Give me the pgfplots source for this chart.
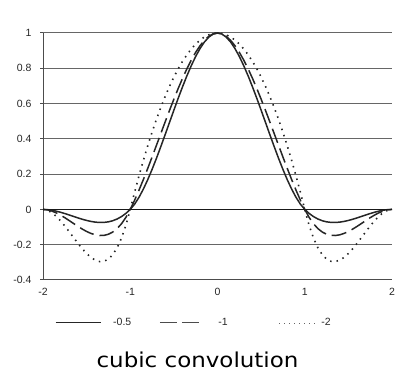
\documentclass[border=0pt]{standalone}
\usepackage{pgfplots}
\pgfplotsset{compat=1.18}
\usepackage{pgfplotstable}
\usepackage{fontspec}
\setmainfont{Liberation Sans}
\newfontfamily\capfont{DejaVu Sans}
\pgfplotstableread{
x a05 a1 a2
-2.00 0 0 0
-1.95 -0.00119 -0.00238 -0.00475
-1.90 -0.0045 -0.009 -0.018
-1.85 -0.00956 -0.01913 -0.03825
-1.80 -0.016 -0.032 -0.064
-1.75 -0.02344 -0.04688 -0.09375
-1.70 -0.0315 -0.063 -0.126
-1.65 -0.03981 -0.07963 -0.15925
-1.60 -0.048 -0.096 -0.192
-1.55 -0.05569 -0.11138 -0.22275
-1.50 -0.0625 -0.125 -0.25
-1.45 -0.06806 -0.13613 -0.27225
-1.40 -0.072 -0.144 -0.288
-1.35 -0.07394 -0.14788 -0.29575
-1.30 -0.0735 -0.147 -0.294
-1.25 -0.07031 -0.14063 -0.28125
-1.20 -0.064 -0.128 -0.256
-1.15 -0.05419 -0.10838 -0.21675
-1.10 -0.0405 -0.081 -0.162
-1.05 -0.02256 -0.04513 -0.09025
-1.00 0 0 0
-0.95 0.02981 0.05238 0.0975
-0.90 0.0685 0.109 0.19
-0.85 0.11494 0.16913 0.2775
-0.80 0.168 0.232 0.36
-0.75 0.22656 0.29688 0.4375
-0.70 0.2895 0.363 0.51
-0.65 0.35569 0.42963 0.5775
-0.60 0.424 0.496 0.64
-0.55 0.49331 0.56138 0.6975
-0.50 0.5625 0.625 0.75
-0.45 0.63044 0.68613 0.7975
-0.40 0.696 0.744 0.84
-0.35 0.75806 0.79788 0.8775
-0.30 0.8155 0.847 0.91
-0.25 0.86719 0.89063 0.9375
-0.20 0.912 0.928 0.96
-0.15 0.94881 0.95838 0.9775
-0.10 0.9765 0.981 0.99
-0.05 0.99394 0.99513 0.9975
0.00 1 1 1
0.05 0.99394 0.99513 0.9975
0.10 0.9765 0.981 0.99
0.15 0.94881 0.95838 0.9775
0.20 0.912 0.928 0.96
0.25 0.86719 0.89063 0.9375
0.30 0.8155 0.847 0.91
0.35 0.75806 0.79788 0.8775
0.40 0.696 0.744 0.84
0.45 0.63044 0.68613 0.7975
0.50 0.5625 0.625 0.75
0.55 0.49331 0.56138 0.6975
0.60 0.424 0.496 0.64
0.65 0.35569 0.42963 0.5775
0.70 0.2895 0.363 0.51
0.75 0.22656 0.29688 0.4375
0.80 0.168 0.232 0.36
0.85 0.11494 0.16913 0.2775
0.90 0.0685 0.109 0.19
0.95 0.02981 0.05238 0.0975
1.00 0 0 0
1.05 -0.02256 -0.04513 -0.09025
1.10 -0.0405 -0.081 -0.162
1.15 -0.05419 -0.10838 -0.21675
1.20 -0.064 -0.128 -0.256
1.25 -0.07031 -0.14063 -0.28125
1.30 -0.0735 -0.147 -0.294
1.35 -0.07394 -0.14788 -0.29575
1.40 -0.072 -0.144 -0.288
1.45 -0.06806 -0.13613 -0.27225
1.50 -0.0625 -0.125 -0.25
1.55 -0.05569 -0.11138 -0.22275
1.60 -0.048 -0.096 -0.192
1.65 -0.03981 -0.07963 -0.15925
1.70 -0.0315 -0.063 -0.126
1.75 -0.02344 -0.04688 -0.09375
1.80 -0.016 -0.032 -0.064
1.85 -0.00956 -0.01913 -0.03825
1.90 -0.0045 -0.009 -0.018
1.95 -0.00119 -0.00238 -0.00475
2.00 0 0 0
}\kernel
\begin{document}
\begin{tikzpicture}[x=1pt,y=1pt]
\path (0,0) rectangle (405,377);
\begin{axis}[
  at={(43pt,97pt)}, anchor=south west,
  scale only axis, width=349pt, height=247pt,
  xmin=-2, xmax=2, ymin=-0.4, ymax=1,
  axis lines*=left,
  axis line style={black!70, line width=1pt},
  xtick={-2,-1,0,1,2},
  ytick={-0.4,-0.2,0,0.2,0.4,0.6,0.8,1},
  xtick style={draw=none},
  ytick style={black!70, line width=1pt},
  tick align=outside,
  major tick length=3pt,
  ymajorgrids,
  major grid style={black!60, line width=1pt},
  /pgf/number format/assume math mode=true,
  ticklabel style={font=\fontsize{10.5}{12}\selectfont, text=black!85},
  yticklabel style={xshift=-5pt},
  xticklabel style={yshift=-2pt},
  legend columns=3,
  legend style={draw=none, fill=none, at={(0.0344,-0.174)}, anchor=west,
    inner sep=0pt, row sep=0pt,
    nodes={inner sep=0pt},
    /tikz/column 1/.style={column sep=12pt},
    /tikz/column 2/.style={column sep=28pt},
    /tikz/column 3/.style={column sep=19pt},
    /tikz/column 4/.style={column sep=51pt},
    /tikz/column 5/.style={column sep=6pt},
    font=\fontsize{10.5}{12}\selectfont, text=black!85},
]
\addplot[black!85, line width=1.5pt,
  legend image code/.code={\draw[black!85, line width=1pt, solid] (0pt,0pt) -- (45pt,0pt);}]
  table[x=x, y=a05] {\kernel};
\addlegendentry{-0.5}
\addplot[black!85, line width=1.5pt, dash pattern=on 15pt off 6pt,
  legend image code/.code={\draw[black!70, line width=1pt, dash pattern=on 17pt off 5pt] (0pt,0pt) -- (39pt,0pt);}]
  table[x=x, y=a1] {\kernel};
\addlegendentry{-1}
\addplot[black!85, line width=1.6pt, dash pattern=on 1.5pt off 5pt,
  legend image code/.code={\draw[black!60, line width=0.8pt, dash pattern=on 1pt off 4pt] (0pt,0pt) -- (36pt,0pt);}]
  table[x=x, y=a2] {\kernel};
\addlegendentry{-2}
\draw[black!90, line width=1pt] (axis cs:-2,0) -- (axis cs:2,0);
\end{axis}
\node[font=\capfont\fontsize{20.5}{24}\selectfont, xscale=1.12] at (197.5,17) {cubic convolution};
\end{tikzpicture}
\end{document}
